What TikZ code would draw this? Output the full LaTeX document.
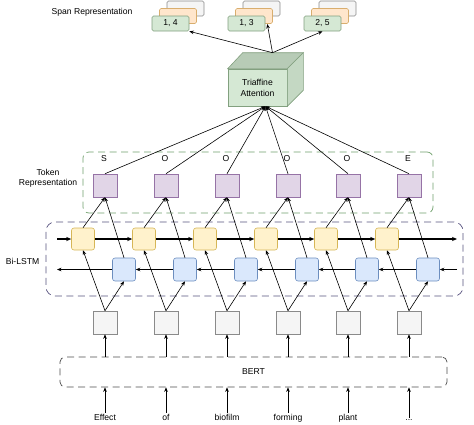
\documentclass[tikz,border=0pt]{standalone}
\usepackage{fontspec}
\setmainfont{Liberation Sans}
\usetikzlibrary{arrows.meta,calc}
\definecolor{grnF}{HTML}{D5E8D4}
\definecolor{grnS}{HTML}{82A07F}
\definecolor{grnTop}{HTML}{B7CBB6}
\definecolor{grnSide}{HTML}{C4D8C3}
\definecolor{orgF}{HTML}{FFE6CC}
\definecolor{orgS}{HTML}{D9AE6E}
\definecolor{gryF}{HTML}{F5F5F5}
\definecolor{gryS}{HTML}{8A8A8A}
\definecolor{purF}{HTML}{E1D5E7}
\definecolor{purS}{HTML}{9673A6}
\definecolor{yelF}{HTML}{FFF2CC}
\definecolor{yelS}{HTML}{D6B656}
\definecolor{bluF}{HTML}{DAE8FC}
\definecolor{bluS}{HTML}{6C8EBF}
\definecolor{lstmS}{HTML}{56517E}
\definecolor{tokS}{HTML}{6FA06B}
\begin{document}
\begin{tikzpicture}[x=1pt,y=-1pt,
  font=\fontsize{8.6}{10}\selectfont,
  box/.style={draw, minimum width=23pt, minimum height=23pt, inner sep=0pt, line width=0.6pt},
  ybox/.style={box, fill=yelF, draw=yelS, rounded corners=2.5pt, minimum height=22pt},
  bbox/.style={box, fill=bluF, draw=bluS, rounded corners=2.5pt},
  pbox/.style={box, fill=purF, draw=purS, minimum width=24pt},
  gbox/.style={box, fill=gryF, draw=gryS, minimum width=24pt},
  span/.style={draw, line width=0.6pt, rounded corners=1.5pt, minimum width=37pt, minimum height=15pt, inner sep=0pt},
  spg/.style={span, fill=grnF, draw=grnS},
  spo/.style={span, fill=orgF, draw=orgS},
  spy/.style={span, fill=gryF, draw=gryS},
  lbl/.style={inner sep=0pt, align=center},
  arr/.style={-{Stealth[length=4.5pt,width=3.6pt]}, line width=0.6pt},
  thick arr/.style={-{Stealth[length=5pt,width=4.2pt]}, line width=1.1pt},
  dbox/.style={draw, inner sep=0pt, line width=0.7pt, dash pattern=on 7pt off 4.5pt},
]
\useasboundingbox (0,0) rectangle (474,424);

% dashed group boxes
\node[dbox, draw=black!70, rounded corners=5pt, minimum width=387pt, minimum height=30pt] (bert) at (253.5,372) {BERT};
\node[dbox, draw=tokS, rounded corners=6pt, minimum width=350pt, minimum height=61pt] (tok) at (258,182.5) {};
\node[dbox, draw=lstmS, rounded corners=9pt, minimum width=417pt, minimum height=74pt] (lstm) at (254.5,259) {};

% labels
\node[lbl] (lspan) at (92,12) {Span Representation};
\node[lbl] (ltok) at (48,178.5) {Token\\Representation};
\node[lbl] (llstm) at (22.5,261) {Bi-LSTM};

% columns
\foreach \i/\c/\t in {1/105/S,2/166/O,3/227/O,4/288/O,5/348/O,6/409/E}{
  \node[gbox] (g\i) at (\c,322.5) {};
  \node[pbox] (p\i) at (\c,185.5) {};
  \node[ybox] (y\i) at (\c-22,239) {};
  \node[bbox] (b\i) at (\c+19,269.5) {};
  \node[lbl] (t\i) at (\c-1,159) {\t};
}
\foreach \i/\c/\w in {1/105/Effect,2/166/of,3/227/biofilm,4/288/forming,5/348/plant}{
  \node[lbl, anchor=base] (w\i) at (\c,420) {\w};
}
\node[lbl, anchor=base] (w6) at (409,420) {{...}};

% span representations
\foreach \i/\x in {1/170.5,2/246.5,3/322.5}{
  \node[spy] (sy\i) at (\x+15,8.5) {};
  \node[spo] (so\i) at (\x+7.5,16) {};
  \node[spg] (sg\i) at (\x,23.5) {};
}
\node[lbl] at (sg1) {1, 4};
\node[lbl] at (sg2) {1, 3};
\node[lbl] at (sg3) {2, 5};

% cube
\node[draw=grnS, fill=grnF, line width=0.6pt, minimum width=59pt, minimum height=37pt, inner sep=0pt, align=center] (cube) at (257.5,87.5) {Triaffine\\[1pt]Attention};
\draw[draw=grnS, fill=grnTop, line width=0.6pt] (cube.north west) -- ($(cube.north west)+(15,-16)$) -- ($(cube.north east)+(16,-16)$) -- (cube.north east) -- cycle;
\draw[draw=grnS, fill=grnSide, line width=0.6pt] (cube.north east) -- ($(cube.north east)+(16,-16)$) -- ($(cube.south east)+(16,-16)$) -- (cube.south east) -- cycle;
\coordinate (ct) at ($(cube.north)+(15,-16)$);
\coordinate (cb) at ($(cube.south)+(8,0)$);

% cube to spans
\draw[arr] (ct) -- (sg1.south east);
\draw[arr] (ct) -- ($(sg2.east)+(2,0.5)$);
\draw[arr] (ct) -- (sg3.south);

% tokens to cube
\foreach \i in {1,...,6}{
  \draw[arr] (p\i.north) -- (cb);
}

% BiLSTM connections
\foreach \i in {1,...,6}{
  \draw[arr] (g\i.north) -- (y\i.south);
  \draw[arr] (g\i.north) -- (b\i.south);
  \draw[arr] (y\i.north) -- (p\i.south);
  \draw[arr] (b\i.north) -- (p\i.south);
  \draw[arr] (bert.north -| g\i.south) -- (g\i.south);
  \draw[arr] ($(w\i.north)+(0,-1)$) -- (bert.south -| w\i.north);
}

% forward / backward chains
\coordinate (fs) at (57,239);
\coordinate (fe) at (457,239);
\coordinate (bs) at (457,269.5);
\coordinate (be) at (57,269.5);
\draw[thick arr] (fs) -- (y1.west);
\foreach \i/\j in {1/2,2/3,3/4,4/5,5/6}{
  \draw[thick arr] (y\i.east) -- (y\j.west);
  \draw[arr] (b\j.west) -- (b\i.east);
}
\draw[thick arr] (y6.east) -- (fe);
\draw[arr] (bs) -- (b6.east);
\draw[arr] (b1.west) -- (be);
\end{tikzpicture}
\end{document}
